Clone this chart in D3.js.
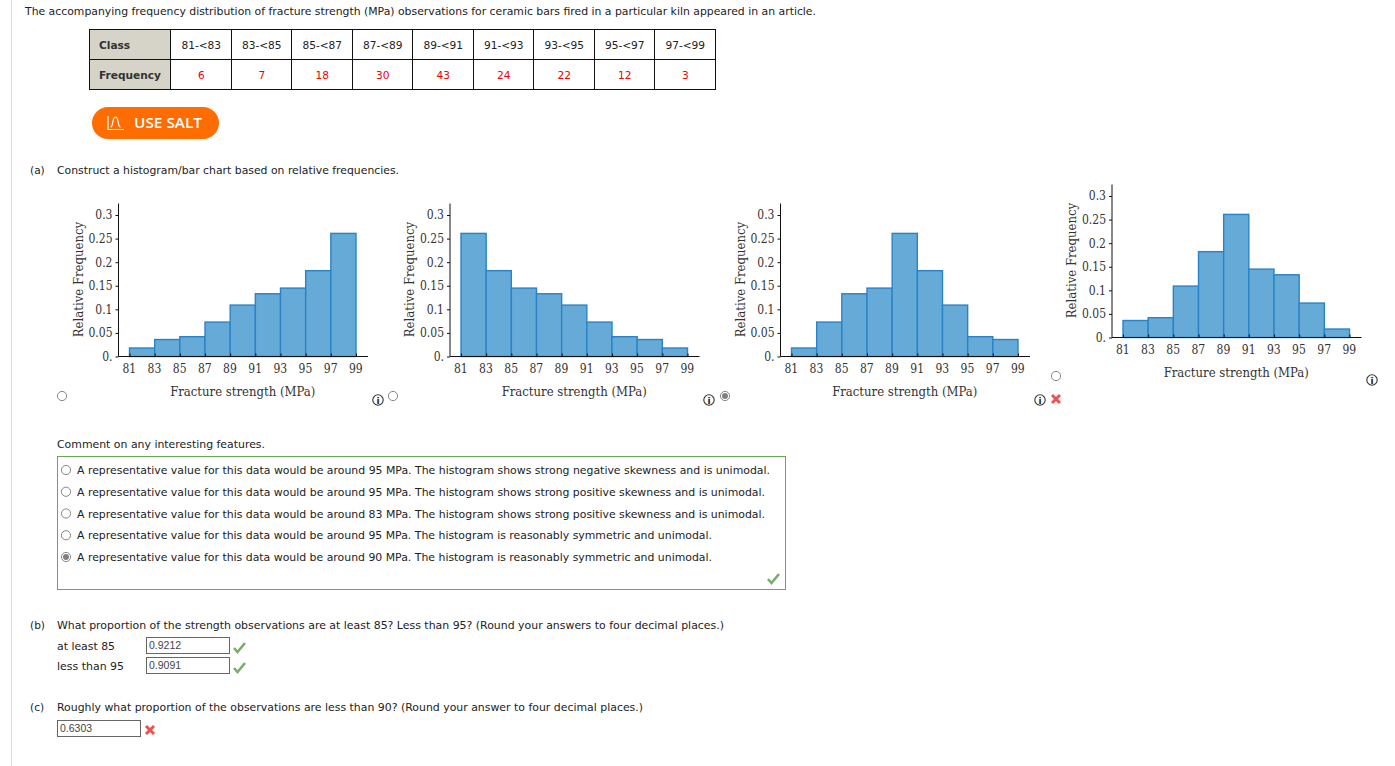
<!DOCTYPE html>
<html>
<head>
<meta charset="utf-8">
<script src="https://d3js.org/d3.v7.min.js"></script>
<style>
html, body { margin: 0; padding: 0; background: #fff; overflow: hidden; }
svg { display: block; }
text { font-family: "DejaVu Sans", Verdana, sans-serif; font-size: 10.6px; fill: #222; }
.plot text { font-family: "DejaVu Serif Condensed", "DejaVu Serif", serif; fill: #333; }
.plot .tick text { font-size: 12px; }
.plot .title { font-size: 13px; }
.domain, .tick line { stroke: #111; }
</style>
</head>
<body>
<script>

var classes = ['81-<83', '83-<85', '85-<87', '87-<89', '89-<91', '91-<93', '93-<95', '95-<97', '97-<99'];
var frequencies = [6, 7, 18, 30, 43, 24, 22, 12, 3];

var edges = [81, 83, 85, 87, 89, 91, 93, 95, 97, 99];
var yTicks = [0, 0.05, 0.1, 0.15, 0.2, 0.25, 0.3];

var heightsA = [0.018, 0.036, 0.042, 0.073, 0.109, 0.133, 0.145, 0.182, 0.261];
var heightsB = [0.261, 0.182, 0.145, 0.133, 0.109, 0.073, 0.042, 0.036, 0.018];
var heightsC = [0.018, 0.073, 0.133, 0.145, 0.261, 0.182, 0.109, 0.042, 0.036];
var heightsD = [0.036, 0.042, 0.109, 0.182, 0.261, 0.145, 0.133, 0.073, 0.018];

var options = [
  'A representative value for this data would be around 95 MPa. The histogram shows strong negative skewness and is unimodal.',
  'A representative value for this data would be around 95 MPa. The histogram shows strong positive skewness and is unimodal.',
  'A representative value for this data would be around 83 MPa. The histogram shows strong positive skewness and is unimodal.',
  'A representative value for this data would be around 95 MPa. The histogram is reasonably symmetric and unimodal.',
  'A representative value for this data would be around 90 MPa. The histogram is reasonably symmetric and unimodal.'
];

var w = 1395,
    h = 766;

var svg = d3.select('body').append('svg')
  .attr('width', w)
  .attr('height', h);

function label(x, y, s, width) {
  var t = svg.append('text').attr('x', x).attr('y', y).text(s);
  // stretch to the measured width since Verdana isn't installed
  if (width) t.attr('textLength', width).attr('lengthAdjust', 'spacingAndGlyphs');
  return t;
}

function radio(x, y, on) {
  svg.append('circle').attr('cx', x).attr('cy', y).attr('r', 4.6)
    .attr('fill', '#fff').attr('stroke', '#888');
  if (on) svg.append('circle').attr('cx', x).attr('cy', y).attr('r', 3).attr('fill', '#808080');
}

function info(x, y) {
  svg.append('circle').attr('cx', x).attr('cy', y).attr('r', 5.2)
    .attr('fill', '#fff').attr('stroke', '#333').attr('stroke-width', 1.1);
  svg.append('text').attr('x', x).attr('y', y + 4).attr('text-anchor', 'middle')
    .style('font-size', '9px').style('font-weight', 'bold').text('i');
}

function check(x, y) {
  svg.append('path').attr('d', 'M' + x + ',' + (y + 1) + 'l3.5,4l7.5,-9')
    .attr('fill', 'none').attr('stroke', '#79ad68').attr('stroke-width', 2.6);
}

function cross(x, y) {
  svg.append('path').attr('d', 'M' + x + ',' + (y - 4) + 'l8,8m0,-8l-8,8')
    .attr('fill', 'none').attr('stroke', '#ee5050').attr('stroke-width', 3);
}

function inputBox(x, y, width, s) {
  svg.append('rect').attr('x', x + 0.5).attr('y', y + 0.5).attr('width', width - 1).attr('height', 16)
    .attr('fill', '#fff').attr('stroke', '#666');
  svg.append('text').attr('x', x + 3).attr('y', y + 12)
    .style('font-family', '"Liberation Sans", Arial, sans-serif').style('font-size', '10.5px').style('fill', '#444').text(s);
}

// page rule down the left
svg.append('line').attr('x1', 11.5).attr('x2', 11.5).attr('y1', 0).attr('y2', h)
  .attr('stroke', '#ddd');

label(25, 15, 'The accompanying frequency distribution of fracture strength (MPa) observations for ceramic bars fired in a particular kiln appeared in an article.', 791);

// frequency table
var colEdges = d3.range(classes.length + 1).map(function(i) {
  return d3.scaleLinear().domain([0, classes.length]).range([171, 715.5])(i);
});

svg.append('rect').attr('x', 89.5).attr('y', 29.5).attr('width', 81).attr('height', 60).attr('fill', '#d6d3c9');
svg.append('rect').attr('x', 89.5).attr('y', 29.5).attr('width', 626).attr('height', 60)
  .attr('fill', 'none').attr('stroke', '#111');
svg.append('line').attr('x1', 89.5).attr('x2', 715.5).attr('y1', 59.5).attr('y2', 59.5).attr('stroke', '#111');
svg.selectAll('.col').data(colEdges.slice(0, -1)).enter().append('line')
  .attr('class', 'col')
  .attr('x1', function(d) { return Math.round(d) - 0.5; })
  .attr('x2', function(d) { return Math.round(d) - 0.5; })
  .attr('y1', 29.5).attr('y2', 89.5).attr('stroke', '#111');

label(99, 49, 'Class').style('font-weight', 'bold').style('fill', '#333');
label(99, 79, 'Frequency').style('font-weight', 'bold').style('fill', '#333');

classes.forEach(function(c, i) {
  var mid = (colEdges[i] + colEdges[i + 1]) / 2;
  svg.append('text').attr('x', mid).attr('y', 49).attr('text-anchor', 'middle').text(c);
  svg.append('text').attr('x', mid).attr('y', 79).attr('text-anchor', 'middle')
    .style('fill', '#e00').text(frequencies[i]);
});

// USE SALT button
svg.append('rect').attr('x', 92).attr('y', 107).attr('width', 127).attr('height', 32).attr('rx', 16)
  .attr('fill', '#ff6c00');
svg.append('path').attr('d', 'M108,116v13.5h16M110.5,127c3,0,1.5,-10,5,-10s2,10,5,10')
  .attr('fill', 'none').attr('stroke', '#fff').attr('stroke-width', 1.2);
svg.append('text').attr('x', 134).attr('y', 128)
  .attr('textLength', 68).attr('lengthAdjust', 'spacingAndGlyphs')
  .style('font-family', '"Open Sans", sans-serif').style('font-size', '15px').style('font-weight', '600')
  .style('fill', '#fff').text('USE SALT');

label(30, 174, '(a)');
label(57, 174, 'Construct a histogram/bar chart based on relative frequencies.', 342);

// four answer histograms, one origin each
function histogram(left, bottom, values) {
  var x = d3.scaleLinear().domain([81, 99]).range([left + 11, left + 237.5]);
  var y = d3.scaleLinear().domain([0, 0.3]).range([bottom, bottom - 141.5]);

  var g = svg.append('g').attr('class', 'plot');

  g.selectAll('rect').data(values).enter().append('rect')
    .attr('x', function(d, i) { return x(edges[i]); })
    .attr('y', function(d) { return y(d); })
    .attr('width', function(d, i) { return x(edges[i + 1]) - x(edges[i]); })
    .attr('height', function(d) { return y(0) - y(d); })
    .attr('fill', '#66aad7')
    .attr('stroke', '#2a83c6')
    .attr('stroke-width', 1.4);

  var xAxis = d3.axisBottom(x).tickValues(edges).tickSize(3).tickPadding(5).tickFormat(d3.format('d'));
  var gx = g.append('g').attr('transform', 'translate(0,' + bottom + ')').call(xAxis);
  gx.selectAll('.tick line').attr('y2', -3).attr('stroke', '#134');
  gx.selectAll('.tick text').attr('dx', -0.7);
  gx.select('.domain').attr('d', 'M' + left + ',0H' + (left + 249.5));

  var yAxis = d3.axisLeft(y).tickValues(yTicks).tickSize(3).tickPadding(3)
    .tickFormat(function(d) { return d === 0 ? '0.' : String(d); });
  var gy = g.append('g').attr('transform', 'translate(' + left + ',0)').call(yAxis);
  gy.select('.domain').attr('d', 'M0,' + (bottom - 153) + 'V' + bottom);

  g.append('text').attr('class', 'title')
    .attr('x', (x(81) + x(99)) / 2).attr('y', bottom + 39).attr('text-anchor', 'middle')
    .text('Fracture strength (MPa)');
  g.append('text').attr('class', 'title')
    .attr('transform', 'translate(' + (left - 36) + ',' + (bottom - 77) + ') rotate(-90)')
    .attr('text-anchor', 'middle')
    .text('Relative Frequency');
}

histogram(118.5, 356.5, heightsA);
histogram(450, 356.5, heightsB);
histogram(780.5, 356.5, heightsC);
histogram(1112, 337.5, heightsD);

radio(62, 396, false);
info(378, 400);
radio(393, 396, false);
info(709, 400);
radio(725, 396, true);
info(1040, 400);
radio(1056, 376, false);
cross(1052, 399);
info(1372, 380);

label(57, 448, 'Comment on any interesting features.', 208);

svg.append('rect').attr('x', 57.5).attr('y', 456.5).attr('width', 728).attr('height', 133)
  .attr('fill', 'none').attr('stroke', '#6aa84f');

var optionY = d3.scalePoint().domain(d3.range(options.length)).range([474, 561]);
var optionWidths = [693, 688, 688, 635, 635];
options.forEach(function(s, i) {
  radio(66, optionY(i) - 4, i === 4);
  label(77, optionY(i), s, optionWidths[i]);
});
check(768, 578);

label(30, 629, '(b)');
label(57, 629, 'What proportion of the strength observations are at least 85? Less than 95? (Round your answers to four decimal places.)', 667);
label(57, 650, 'at least 85', 58);
label(57, 670, 'less than 95', 67);
inputBox(146, 637, 84, '0.9212');
check(234, 647);
inputBox(146, 657, 84, '0.9091');
check(234, 667);

label(30, 711, '(c)');
label(57, 711, 'Roughly what proportion of the observations are less than 90? (Round your answer to four decimal places.)', 586);
inputBox(57, 720, 84, '0.6303');
cross(146, 730);

</script>
</body>
</html>
